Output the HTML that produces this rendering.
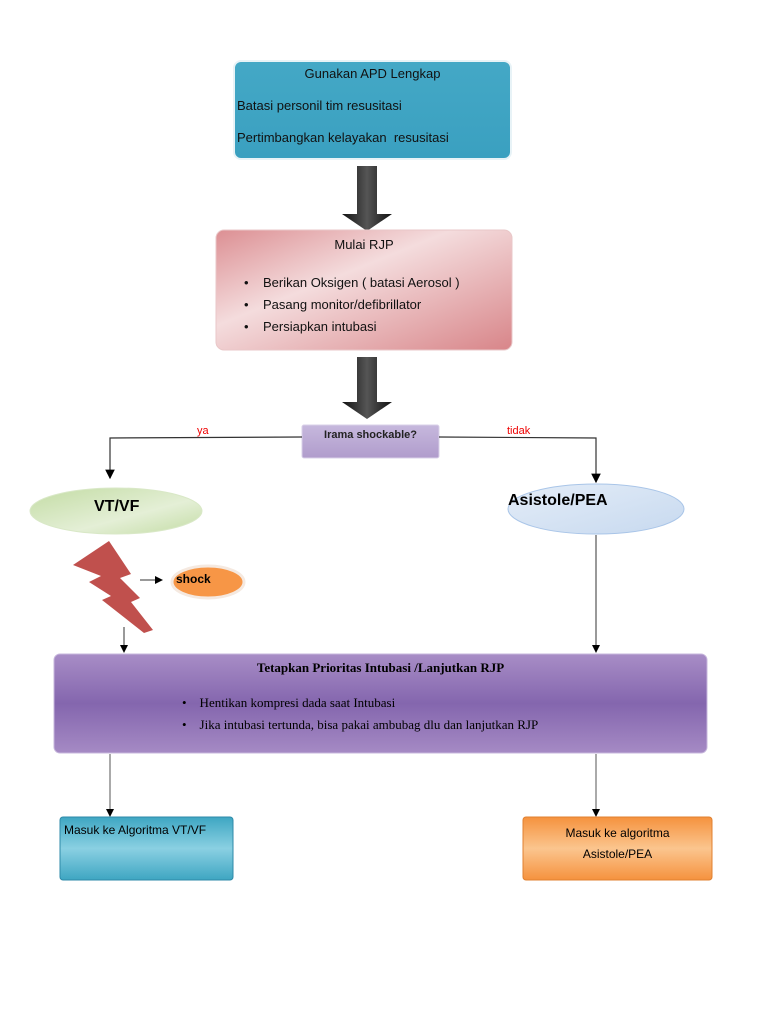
<!DOCTYPE html>
<html><head><meta charset="utf-8"><style>
body{margin:0;width:768px;height:1024px;background:#fff;position:relative;font-family:"Liberation Sans",sans-serif;overflow:hidden}
.a{position:absolute}
.t{font-size:13px;color:#111}
</style></head><body>
<svg class="a" style="left:0;top:0" width="768" height="1024">
<defs>
<linearGradient id="bl" x1="0" y1="0" x2="0" y2="1"><stop offset="0" stop-color="#44a8c6"/><stop offset="1" stop-color="#3aa0c0"/></linearGradient>
<linearGradient id="pk" x1="0" y1="0" x2="1" y2="1"><stop offset="0" stop-color="#dc8f93"/><stop offset=".4" stop-color="#f4dcdd"/><stop offset="1" stop-color="#d88589"/></linearGradient>
<linearGradient id="pu" x1="0" y1="0" x2="0" y2="1"><stop offset="0" stop-color="#a88dc6"/><stop offset=".5" stop-color="#8466ae"/><stop offset="1" stop-color="#a58ac4"/></linearGradient>
<linearGradient id="lp" x1="0" y1="0" x2="0" y2="1"><stop offset="0" stop-color="#c6b8dd"/><stop offset="1" stop-color="#b09ccc"/></linearGradient>
<linearGradient id="gr" x1="0" y1="0" x2="1" y2="1"><stop offset="0" stop-color="#c3dca4"/><stop offset=".6" stop-color="#e4efd6"/><stop offset="1" stop-color="#c3dca4"/></linearGradient>
<linearGradient id="lb" x1="0" y1="0" x2="1" y2="1"><stop offset="0" stop-color="#e4edf8"/><stop offset="1" stop-color="#c7d9ef"/></linearGradient>
<linearGradient id="ar" x1="0" y1="0" x2="1" y2="0"><stop offset="0" stop-color="#111"/><stop offset=".5" stop-color="#555"/><stop offset="1" stop-color="#111"/></linearGradient>
<linearGradient id="bt" x1="0" y1="0" x2="0" y2="1"><stop offset="0" stop-color="#3ea6c2"/><stop offset=".5" stop-color="#8ad0e2"/><stop offset="1" stop-color="#3ea6c2"/></linearGradient>
<linearGradient id="or" x1="0" y1="0" x2="0" y2="1"><stop offset="0" stop-color="#f5923e"/><stop offset=".5" stop-color="#fbc58e"/><stop offset="1" stop-color="#f5923e"/></linearGradient>
<marker id="m" markerWidth="8" markerHeight="8" refX="7" refY="4" orient="auto"><path d="M0,0L8,4L0,8z" fill="#000"/></marker>
</defs>
<rect x="234" y="61" width="277" height="98" rx="7" fill="url(#bl)" stroke="#e8f3f7" stroke-width="2"/>
<polygon points="357,166 377,166 377,214 392,214 367,231 342,214 357,214" fill="url(#ar)"/>
<rect x="216" y="230" width="296" height="120" rx="8" fill="url(#pk)" stroke="#e9c7c8"/>
<polygon points="357,357 377,357 377,402 392,402 367,419 342,402 357,402" fill="url(#ar)"/>
<rect x="302" y="425" width="137" height="33" rx="2" fill="url(#lp)" stroke="#d9d0e8"/>
<polyline points="302,437 110,438 110,478" fill="none" stroke="#333" stroke-width="1.2" marker-end="url(#m)"/>
<polyline points="439,437 596,438 596,482" fill="none" stroke="#333" stroke-width="1.2" marker-end="url(#m)"/>
<ellipse cx="116" cy="511" rx="86" ry="23" fill="url(#gr)" stroke="#d9e8c7"/>
<ellipse cx="596" cy="509" rx="88" ry="25" fill="url(#lb)" stroke="#a9c5e8"/>
<polygon points="73,565 109,541 131,574 120,578 140,598 131,602 153,630 144,633 102,600 111,596 89,582 101,576" fill="#c0504d"/>
<line x1="140" y1="580" x2="162" y2="580" stroke="#333" marker-end="url(#m)"/>
<ellipse cx="208" cy="582" rx="36" ry="16" fill="#f79646" stroke="#f5e9e0" stroke-width="3"/>
<line x1="124" y1="627" x2="124" y2="652" stroke="#333" marker-end="url(#m)"/>
<line x1="596" y1="535" x2="596" y2="652" stroke="#333" marker-end="url(#m)"/>
<rect x="54" y="654" width="653" height="99" rx="6" fill="url(#pu)" stroke="#c7b7dc"/>
<line x1="110" y1="754" x2="110" y2="816" stroke="#555" marker-end="url(#m)"/>
<line x1="596" y1="754" x2="596" y2="816" stroke="#555" marker-end="url(#m)"/>
<rect x="60" y="817" width="173" height="63" rx="3" fill="url(#bt)" stroke="#2e8aa8"/>
<rect x="523" y="817" width="189" height="63" rx="3" fill="url(#or)" stroke="#e08030"/>
</svg>
<div class="a t" style="left:234px;top:66px;width:277px;text-align:center">Gunakan APD Lengkap</div>
<div class="a t" style="left:237px;top:98px">Batasi personil tim resusitasi</div>
<div class="a t" style="left:237px;top:130px">Pertimbangkan kelayakan&nbsp; resusitasi</div>
<div class="a t" style="left:216px;top:237px;width:296px;text-align:center">Mulai RJP</div>
<div class="a t" style="left:244px;top:272px;line-height:22px">•&nbsp;&nbsp;&nbsp;&nbsp;Berikan Oksigen ( batasi Aerosol )<br>•&nbsp;&nbsp;&nbsp;&nbsp;Pasang monitor/defibrillator<br>•&nbsp;&nbsp;&nbsp;&nbsp;Persiapkan intubasi</div>
<div class="a" style="left:302px;top:429px;width:137px;text-align:center;font-size:11px;font-weight:bold;color:#222">Irama shockable?</div>
<div class="a" style="left:197px;top:425px;font-size:11px;color:#e00">ya</div>
<div class="a" style="left:507px;top:425px;font-size:11px;color:#e00">tidak</div>
<div class="a" style="left:94px;top:498px;font-size:16px;font-weight:bold">VT/VF</div>
<div class="a" style="left:508px;top:492px;font-size:16px;font-weight:bold">Asistole/PEA</div>
<div class="a" style="left:176px;top:572px;font-size:12px;font-weight:bold">shock</div>
<div class="a" style="left:54px;top:660px;width:653px;text-align:center;font-family:'Liberation Serif',serif;font-weight:bold;font-size:13px">Tetapkan Prioritas Intubasi /Lanjutkan RJP</div>
<div class="a" style="left:182px;top:692px;font-family:'Liberation Serif',serif;font-size:13px;line-height:22px">•&nbsp;&nbsp;&nbsp;&nbsp;Hentikan kompresi dada saat Intubasi<br>•&nbsp;&nbsp;&nbsp;&nbsp;Jika intubasi tertunda, bisa pakai ambubag dlu dan lanjutkan RJP</div>
<div class="a" style="left:64px;top:823px;font-size:12px">Masuk ke Algoritma VT/VF</div>
<div class="a" style="left:523px;top:823px;width:189px;text-align:center;font-size:12px;line-height:21px">Masuk ke algoritma<br>Asistole/PEA</div>
</body></html>
